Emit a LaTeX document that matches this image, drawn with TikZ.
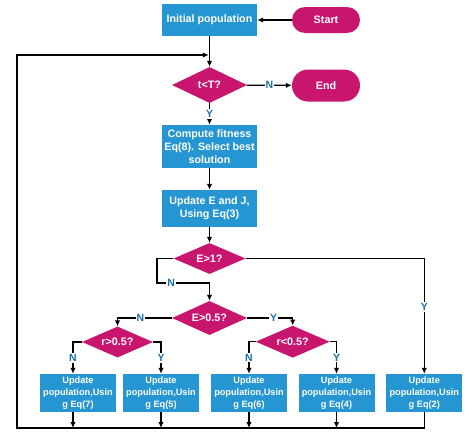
\documentclass[tikz,border=0pt]{standalone}
\usepackage{fontspec}
\setmainfont{Liberation Sans}
\usepackage{xcolor}
\usepackage{tikz}
\usetikzlibrary{shapes,arrows,positioning,calc,arrows.meta}
\definecolor{boxblue}{RGB}{38,150,211}
\definecolor{decpink}{RGB}{200,22,110}
\definecolor{yncol}{RGB}{30,110,165}

\begin{document}
\begin{tikzpicture}[x=1pt,y=-1pt,
    proc/.style={rectangle, fill=boxblue, text=white, align=center, inner sep=0pt,
        minimum width=95pt, font=\bfseries\fontsize{10.7}{13}\selectfont},
    updbox/.style={rectangle, fill=boxblue, text=white, align=center, inner sep=0pt,
        minimum width=76pt, minimum height=38pt, font=\bfseries\fontsize{9.2}{11.7}\selectfont},
    decision/.style={diamond, fill=decpink, text=white, aspect=2, inner sep=0pt,
        font=\bfseries\fontsize{10.8}{12}\selectfont},
    term/.style={rectangle, fill=decpink, text=white, minimum width=68pt,
        font=\bfseries\fontsize{10.8}{12}\selectfont},
    yn/.style={fill=white, text=yncol, inner sep=1pt, font=\bfseries\fontsize{10.5}{12}\selectfont},
    arr/.style={-{Latex[length=6pt,width=5.5pt]}, line width=1.3pt}]
    \useasboundingbox (0,0) rectangle (474,447);

    % Top part
    \node[proc, minimum height=32pt] (init) at (209.5,20) {Initial population};
    \node[term, minimum height=26pt, rounded corners=13pt] (start) at (326,20) {Start};
    \node[decision, minimum width=75pt, minimum height=36pt] (tT) at (209.5,85) {t<T?};
    \node[term, minimum height=32pt, rounded corners=16pt] (endn) at (326,85.5) {End};
    \node[proc, minimum height=43pt] (fit) at (209.5,146.5) {Compute fitness\\Eq(8). Select best\\solution};
    \node[proc, minimum height=37pt] (upd) at (209.5,208.5) {Update E and J,\\Using Eq(3)};

    % Decisions
    \node[decision, minimum width=72pt, minimum height=31pt] (e1) at (209.5,258.5) {E>1?};
    \node[decision, minimum width=75pt, minimum height=34pt] (e05) at (209.5,318) {E>0.5?};
    \node[decision, minimum width=71pt, minimum height=31pt] (r1) at (117.5,342) {r>0.5?};
    \node[decision, minimum width=74pt, minimum height=32pt] (r2) at (292.7,341.7) {r<0.5?};

    % Update boxes
    \node[updbox] (b7) at (78,393) {Update\\population,Usin\\g Eq(7)};
    \node[updbox] (b5) at (161,393) {Update\\population,Usin\\g Eq(5)};
    \node[updbox] (b6) at (249,393) {Update\\population,Usin\\g Eq(6)};
    \node[updbox] (b4) at (336.5,393) {Update\\population,Usin\\g Eq(4)};
    \node[updbox] (b2) at (424.3,393) {Update\\population,Usin\\g Eq(2)};

    \coordinate (loopin) at (209.5,55);
    \coordinate (loopbl) at (17,428);
    \coordinate (nturn) at (157,283);

    % Connectors
    \draw[arr] (start) -- (init);
    \draw[arr] (init) -- (tT);
    \draw[arr] (tT) -- node[yn]{N} (endn);
    \draw[arr] (tT) -- node[yn]{Y} (fit);
    \draw[arr] (fit) -- (upd);
    \draw[arr] (upd) -- (e1);
    \draw[arr] (e1.west) -| (nturn) -- node[yn, pos=0.27]{N} (nturn -| e05.north) -- (e05.north);
    \draw[arr] (e1.east) -| node[yn, pos=0.71]{Y} (b2.north);
    \draw[arr] (e05.west) -| node[yn, pos=0.29]{N} (r1.north);
    \draw[arr] (e05.east) -| node[yn, pos=0.29]{Y} (r2.north);
    \draw[arr] (r1.west) -| node[yn, pos=0.75]{N} ([xshift=-5pt]b7.north);
    \draw[arr] (r1.east) -| node[yn, pos=0.75]{Y} (b5.north);
    \draw[arr] (r2.west) -| node[yn, pos=0.75]{N} (b6.north);
    \draw[arr] (r2.east) -| node[yn, pos=0.75]{Y} (b4.north);

    % Loop back
    \draw[arr] ([xshift=-5pt]b7.south) -- ([xshift=-5pt]b7.south |- loopbl);
    \draw[arr] (b5.south) -- (b5.south |- loopbl);
    \draw[arr] (b6.south) -- (b6.south |- loopbl);
    \draw[arr] (b4.south) -- (b4.south |- loopbl);
    \draw[arr] (b2.south) |- (loopbl) |- ([xshift=-0.7pt]loopin);
\end{tikzpicture}
\end{document}
